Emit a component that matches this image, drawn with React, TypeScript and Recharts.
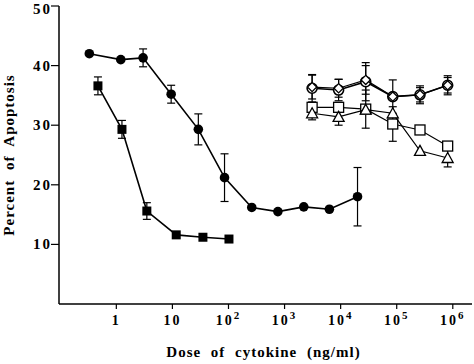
import React from 'react'
import { ScatterChart, Scatter, XAxis, YAxis, ErrorBar, Label } from 'recharts'

// dose (ng/ml) and percent apoptosis
const doseA = [0.33, 1.2, 3, 9.5, 29, 85, 260, 760, 2200, 6300, 20000]
const apoA = [42, 41, 41.3, 35.2, 29.3, 21.2, 16.2, 15.5, 16.3, 15.9, 18]
const errA = [0, 0, 1.5, 1.5, 2.6, 4, 0, 0, 0, 0, 4.9]

const doseB = [0.47, 1.26, 3.5, 11.7, 35, 102]
const apoB = [36.6, 29.3, 15.6, 11.6, 11.2, 10.9]
const errB = [1.5, 1.5, 1.4, 0, 0, 0]

const doseHigh = [3100, 9200, 28000, 85000, 260000, 810000]
const apoCircle = [36.2, 35.9, 37.3, 34.8, 35.1, 36.7]
const errCircle = [2.3, 1.8, 3.2, 2.8, 1.5, 1.6]
const apoDiamond = [36.4, 36.2, 37.6, 34.8, 35.1, 36.7]
const errDiamond = [2.0, 1.5, 2.4, 0, 1.2, 1.3]
const apoSquare = [33, 33, 32.7, 30.2, 29.2, 26.5]
const errSquare = [0, 0, 3.2, 2.9, 0, 0]
const apoTriangle = [32, 31.4, 32.6, 32.0, 25.7, 24.5]
const errTriangle = [1.1, 1.4, 0, 0, 0, 1.5]

const xTicks = [1, 10, 100, 1000, 10000, 100000, 1000000]
const yTicks = [10, 20, 30, 40, 50]

const FONT = "'Liberation Serif', 'DejaVu Serif', serif"

const rows = (xs: number[], ys: number[], es: number[]) =>
  xs.map((x, i) => ({ x, y: ys[i], err: es[i] }))

const FilledCircle = (p: any) => <circle cx={p.cx} cy={p.cy} r={4.8} fill="#000" />
const FilledSquare = (p: any) => <rect x={p.cx - 4.5} y={p.cy - 4.5} width={9} height={9} fill="#000" />
const OpenCircle = (p: any) => <circle cx={p.cx} cy={p.cy} r={5} fill="#fff" stroke="#000" strokeWidth={1.6} />
const OpenDiamond = (p: any) => (
  <polygon
    points={`${p.cx},${p.cy - 4.6} ${p.cx + 4.6},${p.cy} ${p.cx},${p.cy + 4.6} ${p.cx - 4.6},${p.cy}`}
    fill="#fff"
    stroke="#000"
    strokeWidth={1.3}
  />
)
const OpenSquare = (p: any) => (
  <rect x={p.cx - 5} y={p.cy - 5} width={10} height={10} fill="#fff" stroke="#000" strokeWidth={1.3} />
)
const OpenTriangle = (p: any) => (
  <polygon
    points={`${p.cx},${p.cy - 5.5} ${p.cx + 5.5},${p.cy + 4.5} ${p.cx - 5.5},${p.cy + 4.5}`}
    fill="#fff"
    stroke="#000"
    strokeWidth={1.3}
  />
)
const NoMark = () => <g />

function DoseTick({ x, y, payload }: any) {
  const v = payload.value
  const exp = Math.round(Math.log10(v))
  return (
    <text x={x} y={y} dy={12} textAnchor="middle" fontFamily={FONT} fontWeight="bold" fontSize={14} letterSpacing={2} fill="#000">
      {exp < 2 ? (
        String(v)
      ) : (
        <>
          10
          <tspan dy={-6} fontSize={11}>
            {exp}
          </tspan>
        </>
      )}
    </text>
  )
}

function PercentTick({ x, y, payload }: any) {
  // the top label sits a little low so it stays inside the frame
  const shift = payload.value === 50 ? 3 : 0
  return (
    <text x={x + 2} y={y + shift} textAnchor="end" dominantBaseline="central" fontFamily={FONT} fontWeight="bold" fontSize={15} letterSpacing={2} fill="#000">
      {payload.value}
    </text>
  )
}

function YTitle({ viewBox }: any) {
  const cx = viewBox.x + 9
  const cy = viewBox.y + viewBox.height / 2
  return (
    <text
      x={cx}
      y={cy}
      transform={`rotate(-90 ${cx} ${cy})`}
      textAnchor="middle"
      dominantBaseline="central"
      fontFamily={FONT}
      fontWeight="bold"
      fontSize={15}
      letterSpacing={1}
      wordSpacing={5}
      fill="#000"
    >
      Percent of Apoptosis
    </text>
  )
}

function XTitle({ viewBox }: any) {
  return (
    <text
      x={viewBox.x + viewBox.width / 2 - 2}
      y={viewBox.y + 48}
      textAnchor="middle"
      dominantBaseline="central"
      fontFamily={FONT}
      fontWeight="bold"
      fontSize={15}
      letterSpacing={1}
      wordSpacing={5}
      fill="#000"
    >
      Dose of cytokine (ng/ml)
    </text>
  )
}

const line = { stroke: '#000', strokeWidth: 1.6 }
const thinLine = { stroke: '#000', strokeWidth: 1.2 }

const sets = [
  { data: rows(doseHigh, apoSquare, errSquare), shape: OpenSquare, line: thinLine },
  { data: rows(doseHigh, apoTriangle, errTriangle), shape: OpenTriangle, line: thinLine },
  { data: rows(doseHigh, apoCircle, errCircle), shape: OpenCircle, line: line },
  { data: rows(doseHigh, apoDiamond, errDiamond), shape: OpenDiamond, line: thinLine },
  { data: rows(doseB, apoB, errB), shape: FilledSquare, line: line },
  { data: rows(doseA, apoA, errA), shape: FilledCircle, line: line },
]

export default function App() {
  return (
    <div style={{ position: 'absolute', left: 0, top: 0, width: 474, height: 364, background: '#fff' }}>
      <ScatterChart width={474} height={364} margin={{ top: 6, right: 2, bottom: 0, left: 0 }}>
        <XAxis
          dataKey="x"
          type="number"
          scale="log"
          domain={[0.095, 2.2e6]}
          allowDataOverflow
          ticks={xTicks}
          interval={0}
          tick={<DoseTick />}
          height={60}
          tickSize={5}
          tickMargin={4}
          axisLine={{ stroke: '#000', strokeWidth: 1.5 }}
          tickLine={{ stroke: '#000', strokeWidth: 1.2 }}
        >
          <Label content={XTitle} />
        </XAxis>
        <YAxis
          dataKey="y"
          type="number"
          domain={[0, 50]}
          ticks={yTicks}
          interval={0}
          width={59}
          tickSize={8}
          tickMargin={1}
          axisLine={{ stroke: '#000', strokeWidth: 1.5 }}
          tickLine={{ stroke: '#000', strokeWidth: 1.2 }}
          tick={<PercentTick />}
        >
          <Label content={YTitle} />
        </YAxis>

        {/* error bars first so the markers sit on top of them */}
        {sets.map((s, i) => (
          <Scatter key={`e${i}`} data={s.data} shape={NoMark} isAnimationActive={false}>
            <ErrorBar dataKey="err" direction="y" width={4} stroke="#000" strokeWidth={1.2} />
          </Scatter>
        ))}
        {sets.map((s, i) => (
          <Scatter key={`m${i}`} data={s.data} line={s.line} lineType="joint" shape={s.shape} isAnimationActive={false} />
        ))}
      </ScatterChart>
    </div>
  )
}
